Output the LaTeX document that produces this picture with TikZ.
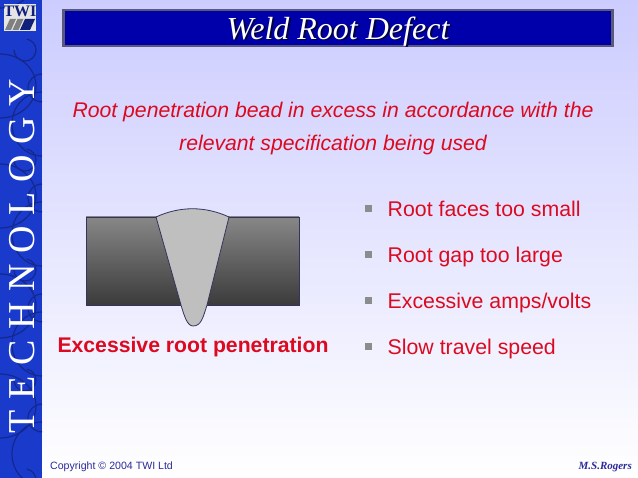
\documentclass[tikz,border=0pt]{standalone}
\usepackage{fontspec}
\setmainfont{Liberation Serif}
\setsansfont{Liberation Sans}
\usetikzlibrary{arrows,positioning}
\definecolor{stripblue}{HTML}{1A3ACC}
\definecolor{swirlblue}{HTML}{14288C}
\definecolor{logoblue}{HTML}{10207A}
\definecolor{titleblue}{HTML}{0000AA}
\definecolor{titleedge}{HTML}{5A5A78}
\definecolor{textred}{HTML}{DC0A20}
\definecolor{footblue}{HTML}{2A2A9A}
\tikzset{
    %Define style for the title
    titlebar/.style={
           rectangle,
           draw=titleedge, line width=2.5pt,
           fill=titleblue,
           minimum width=549pt,
           minimum height=36pt},
    titletext/.style={
           text=white,
           font=\fontsize{32}{36}\selectfont\rmfamily\itshape},
    %Define style for the red text
    remark/.style={
           text=textred,
           inner sep=0pt,
           text height=16pt,
           text depth=5pt,
           font=\fontsize{21.2}{24}\selectfont\sffamily\itshape},
    caption/.style={
           text=textred,
           inner sep=0pt,
           text height=16pt,
           text depth=5pt,
           font=\fontsize{21.2}{24}\selectfont\sffamily\bfseries},
    item/.style={
           text=textred,
           inner sep=0pt,
           text height=16pt,
           text depth=5pt,
           font=\fontsize{21.3}{24}\selectfont\sffamily},
    bulletmark/.style={
           rectangle,
           fill=black!45!white,
           inner sep=0pt,
           minimum size=7pt},
    foot/.style={
           text=footblue,
           inner sep=0pt,
           font=\fontsize{10.6}{13}\selectfont\sffamily},
    swirl/.style={
           draw=swirlblue, line width=1.2pt}
}
\begin{document}
\begin{tikzpicture}[x=1pt,y=-1pt]
\useasboundingbox (0,0) rectangle (638,478);

 %background
\shade[top color=blue!20!white, bottom color=white] (42,0) rectangle (638,478);
\fill[stripblue] (0,0) rectangle (42,478);

 %scrolls
\begin{scope}
\clip (0,0) rectangle (42,478);
\foreach \y in {40,150,260,370,470}{
  \draw[swirl] (42,\y+52) arc (90:270:30pt and 32pt);
  \draw[swirl] (0,\y-32) arc (-90:90:36pt and 32pt);
  \draw[swirl] (14,\y+10) arc (180:440:11pt);
  \draw[swirl] (42,\y+34) arc (90:280:14pt);
}
\end{scope}

 %logo
\node[rectangle, fill=black!10!white, minimum width=32pt, minimum height=27pt, inner sep=0pt] (logo) at (20,17.5) {};
\node[inner sep=0pt, text=logoblue, font=\fontsize{16}{16}\selectfont\rmfamily\bfseries] (twi) at (20,11.5) {TWI};
\fill[black!50!white] (5,30) -- (10,19) -- (16,19) -- (11,30) -- cycle;
\fill[black!50!white] (12.5,30) -- (17.5,19) -- (23.5,19) -- (18.5,30) -- cycle;
\fill[logoblue] (20,30) -- (25,19) -- (35,19) -- (30,30) -- cycle;

 %side word
\node[rotate=90, text=white, inner sep=0pt, font=\fontsize{38}{40}\selectfont\rmfamily\addfontfeature{LetterSpace=27.7}] (side) at (22,256) {TECHNOLOGY};

 %title
\node[titlebar] (bar) at (338,28) {};
\node[titletext, text=black!75!blue] (shadow) at (340,33) {Weld Root Defect};
\node[titletext] (title) at (338,31.5) {Weld Root Defect};

 %remark
\node[remark] (line1) at (333,112.5) {Root penetration bead in excess in accordance with the};
\node[remark, below=11pt of line1] (line2) {relevant specification being used};

 %weld
\node[rectangle, draw=black!80!blue!80!white, thick, top color=black!47!white, bottom color=black!77!white,
  minimum width=213pt, minimum height=88pt, inner sep=0pt] (plate) at (192.5,261) {};
\coordinate (rootL) at (156,217);
\coordinate (rootR) at (229,217);
\draw[draw=black!80!blue!80!white, thick, fill=black!25!white] (rootL) .. controls (180,206) and (205,206) .. (rootR)
  -- (207,305) .. controls (203,318) and (201,326) .. (193,326)
  .. controls (187,326) and (184,315) .. (181,305) -- cycle;
\node[caption] (cap) at (193,347.5) {Excessive root penetration};

 %items
\node[item, anchor=west] (item1) at (387.5,211.5) {Root faces too small};
\node[item, below=46pt of item1.west, anchor=west] (item2) {Root gap too large};
\node[item, below=46pt of item2.west, anchor=west] (item3) {Excessive amps/volts};
\node[item, below=46pt of item3.west, anchor=west] (item4) {Slow travel speed};
\foreach \i in {1,...,4}
  \node[bulletmark, left=15.5pt of item\i, yshift=3pt] (mark\i) {};

 %footer
\node[foot, anchor=west] (copy) at (50,467) {Copyright © 2004 TWI Ltd};
\node[foot, anchor=east, font=\fontsize{11}{13}\selectfont\rmfamily\bfseries\itshape] (name) at (632,467) {M.S.Rogers};
\end{tikzpicture}
\end{document}
